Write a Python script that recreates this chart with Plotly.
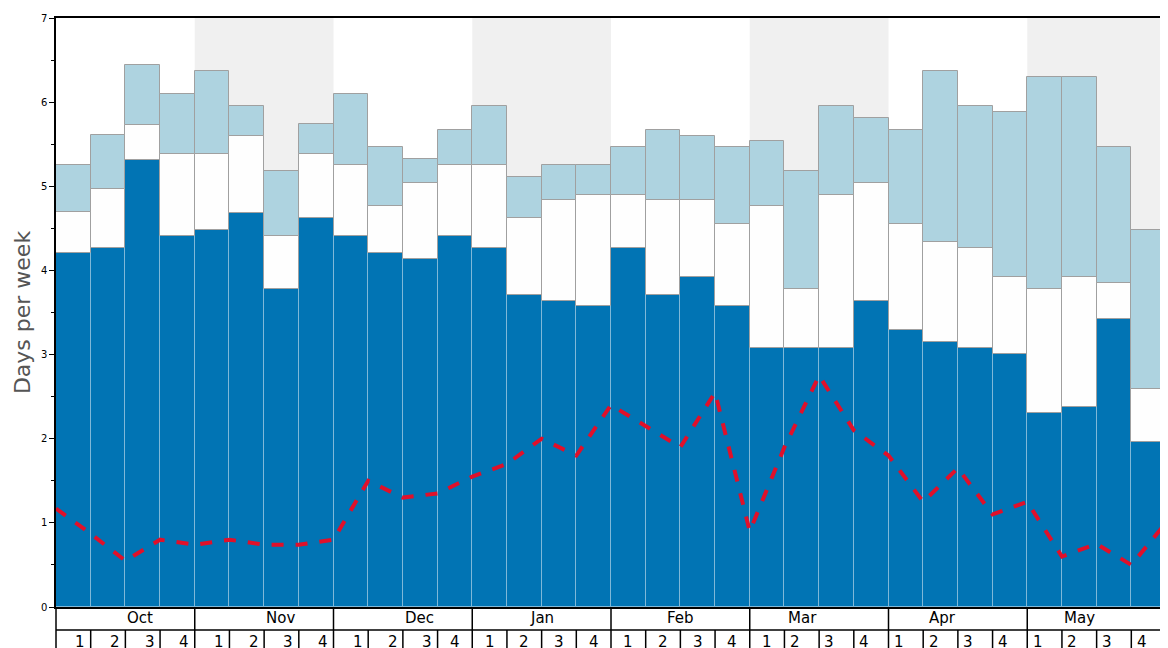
import plotly.graph_objects as go

months = ["Oct", "Nov", "Dec", "Jan", "Feb", "Mar", "Apr", "May"]
weeks = ["1", "2", "3", "4"]

dark_top = [4.21, 4.27, 5.31, 4.41, 4.48, 4.68, 3.78, 4.62,
            4.41, 4.21, 4.14, 4.41, 4.27, 3.71, 3.64, 3.58,
            4.27, 3.71, 3.92, 3.58, 3.08, 3.08, 3.08, 3.64,
            3.29, 3.15, 3.08, 3.01, 2.31, 2.38, 3.42, 1.96]
white_top = [4.69, 4.97, 5.73, 5.38, 5.38, 5.60, 4.41, 5.38,
             5.25, 4.77, 5.04, 5.25, 5.25, 4.62, 4.84, 4.90,
             4.90, 4.84, 4.84, 4.55, 4.77, 3.78, 4.90, 5.04,
             4.55, 4.34, 4.27, 3.92, 3.78, 3.92, 3.85, 2.59]
light_top = [5.25, 5.61, 6.44, 6.10, 6.37, 5.95, 5.18, 5.74,
             6.10, 5.47, 5.32, 5.67, 5.95, 5.11, 5.25, 5.25,
             5.47, 5.67, 5.60, 5.47, 5.54, 5.18, 5.95, 5.81,
             5.67, 6.37, 5.95, 5.88, 6.30, 6.30, 5.47, 4.48]
red_line = [1.17, 0.87, 0.55, 0.80, 0.74, 0.80, 0.74, 0.74, 0.80,
            1.50, 1.30, 1.35, 1.55, 1.70, 2.00, 1.80, 2.40, 2.15,
            1.90, 2.55, 0.90, 1.90, 2.75, 2.10, 1.80, 1.25, 1.65,
            1.10, 1.25, 0.60, 0.75, 0.50, 1.00]

n = len(dark_top)
xs = [i + 0.5 for i in range(n)]
edges = list(range(n + 1))

fig = go.Figure()
line_style = dict(color="#a0a0a0", width=1)
fig.add_bar(x=xs, y=dark_top, base=0, width=1,
            marker=dict(color="#0174b4", line=dict(color="#7fb8d8", width=1)))
fig.add_bar(x=xs, y=[w - d for w, d in zip(white_top, dark_top)], base=dark_top, width=1,
            marker=dict(color="#fefefe", line=line_style))
fig.add_bar(x=xs, y=[l - w for l, w in zip(light_top, white_top)], base=white_top, width=1,
            marker=dict(color="#aed3e0", line=line_style))
fig.add_scatter(x=edges, y=red_line, mode="lines",
                line=dict(color="#e0102a", width=4, dash="dash"))

shapes = []
# shaded months
for m in range(1, 8, 2):
    shapes.append(dict(type="rect", xref="x", yref="y", x0=m * 4, x1=m * 4 + 4,
                       y0=0, y1=7, fillcolor="#f0f0f0", line_width=0, layer="below"))
# two-row axis boxes
r1, r2 = -0.039, -0.079
bl = dict(color="black", width=1.5)
shapes.append(dict(type="line", xref="paper", yref="paper", x0=0, x1=1, y0=r1, y1=r1, line=bl))
shapes.append(dict(type="line", xref="paper", yref="paper", x0=0, x1=1, y0=r2, y1=r2, line=bl))
for i in range(n + 1):
    top = 0 if i % 4 == 0 else r1
    shapes.append(dict(type="line", xref="paper", yref="paper", x0=i / n, x1=i / n,
                       y0=top, y1=r2, line=bl))

annotations = []
for mi, m in enumerate(months):
    annotations.append(dict(xref="paper", yref="paper", x=(mi * 4 + 2) / n, y=r1 / 2,
                            text=m, showarrow=False, font=dict(size=15, color="black"),
                            yanchor="middle"))
    for wi, w in enumerate(weeks):
        annotations.append(dict(xref="paper", yref="paper", x=(mi * 4 + wi + 0.5) / n,
                                y=(r1 + r2) / 2, text=w, showarrow=False,
                                font=dict(size=15, color="black"), yanchor="middle"))

fig.update_layout(
    width=1168, height=648, barmode="overlay", bargap=0, showlegend=False,
    plot_bgcolor="white", paper_bgcolor="white",
    margin=dict(l=48, r=10, t=10, b=49, autoexpand=False),
    font=dict(family="DejaVu Sans"),
    shapes=shapes, annotations=annotations,
    xaxis=dict(range=[0, n], showticklabels=False, ticks="", showgrid=False,
               zeroline=False, showline=True, linecolor="black", mirror=True, linewidth=1.5,
               automargin=False),
    yaxis=dict(range=[0, 7], dtick=1, ticks="outside", ticklen=5, tickcolor="black",
               showgrid=False, zeroline=False, showline=True, linecolor="black",
               mirror=True, linewidth=1.5, tickfont=dict(size=10, color="black"),
               automargin=False,
               minor=dict(dtick=0.5, ticks="outside", ticklen=3, tickcolor="black"),
               title=dict(text="Days per week", font=dict(size=22, color="#555555"),
                          standoff=4)),
)

fig.write_html("out.html")
